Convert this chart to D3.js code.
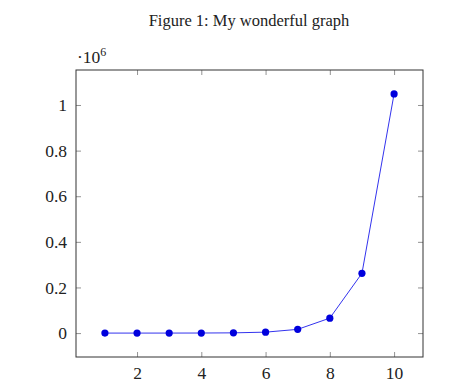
<!DOCTYPE html>
<html><head><meta charset="utf-8">
<script src="https://cdn.jsdelivr.net/npm/d3@7"></script>
<style>body{margin:0;background:#fff}</style>
</head><body>
<svg id="c" width="474" height="389"></svg>
<script>
const xValues = [1,2,3,4,5,6,7,8,9,10];
const yValues = [4,16,64,256,1024,4096,16384,65536,262144,1048576];
const xTicks = [2,4,6,8,10];
const yTicks = [0,200000,400000,600000,800000,1000000];
const yTickLabels = ["0","0.2","0.4","0.6","0.8","1"];
const title = "Figure 1: My wonderful graph";

const svg = d3.select("#c");
const L=76,R=423,T=70,B=357;
const font = "'Liberation Serif', 'DejaVu Serif', serif";
const xr = 10-1, yr = 1048576-4;
const x = d3.scaleLinear().domain([1-0.1*xr, 10+0.1*xr]).range([L,R]);
const y = d3.scaleLinear().domain([4-0.1*yr, 1048576+0.1*yr]).range([B,T]);

svg.append("text").attr("x",249).attr("y",26).attr("text-anchor","middle")
  .attr("font-family",font).attr("font-size",16.5).attr("fill","#222").text(title);

const tickColor="#777";
const gB = svg.append("g").attr("transform",`translate(0,${B})`)
  .call(d3.axisBottom(x).tickValues(xTicks).tickSizeInner(-5).tickSizeOuter(0).tickPadding(9));
const gT = svg.append("g").attr("transform",`translate(0,${T})`)
  .call(d3.axisTop(x).tickValues(xTicks).tickSizeInner(-5).tickSizeOuter(0).tickFormat(""));
const gL = svg.append("g").attr("transform",`translate(${L},0)`)
  .call(d3.axisLeft(y).tickValues(yTicks).tickSizeInner(-5).tickSizeOuter(0).tickPadding(9)
    .tickFormat((d,i)=>yTickLabels[i]));
const gR = svg.append("g").attr("transform",`translate(${R},0)`)
  .call(d3.axisRight(y).tickValues(yTicks).tickSizeInner(-5).tickSizeOuter(0).tickFormat(""));
[gB,gT,gL,gR].forEach(g=>{
  g.select(".domain").remove();
  g.selectAll("line").attr("stroke",tickColor).attr("stroke-width",0.8);
  g.selectAll("text").attr("font-family",font).attr("font-size",17.5).attr("fill","#222");
});
gB.selectAll("text").attr("dy","0.75em");

svg.append("rect").attr("x",L).attr("y",T).attr("width",R-L).attr("height",B-T)
  .attr("fill","none").attr("stroke","#333").attr("stroke-width",1);

const exp = svg.append("text").attr("x",77).attr("y",63).attr("font-family",font)
  .attr("font-size",17.5).attr("fill","#222");
exp.append("tspan").text("·10");
exp.append("tspan").attr("dy",-7).attr("font-size",12).text("6");

const data = xValues.map((v,i)=>[v,yValues[i]]);
svg.append("path").datum(data).attr("fill","none").attr("stroke","#3333ee").attr("stroke-width",1)
  .attr("d",d3.line().x(d=>x(d[0])).y(d=>y(d[1])));
svg.selectAll("circle").data(data).join("circle")
  .attr("cx",d=>x(d[0])).attr("cy",d=>y(d[1])).attr("r",3.6).attr("fill","#0000dd");
</script>
</body></html>
